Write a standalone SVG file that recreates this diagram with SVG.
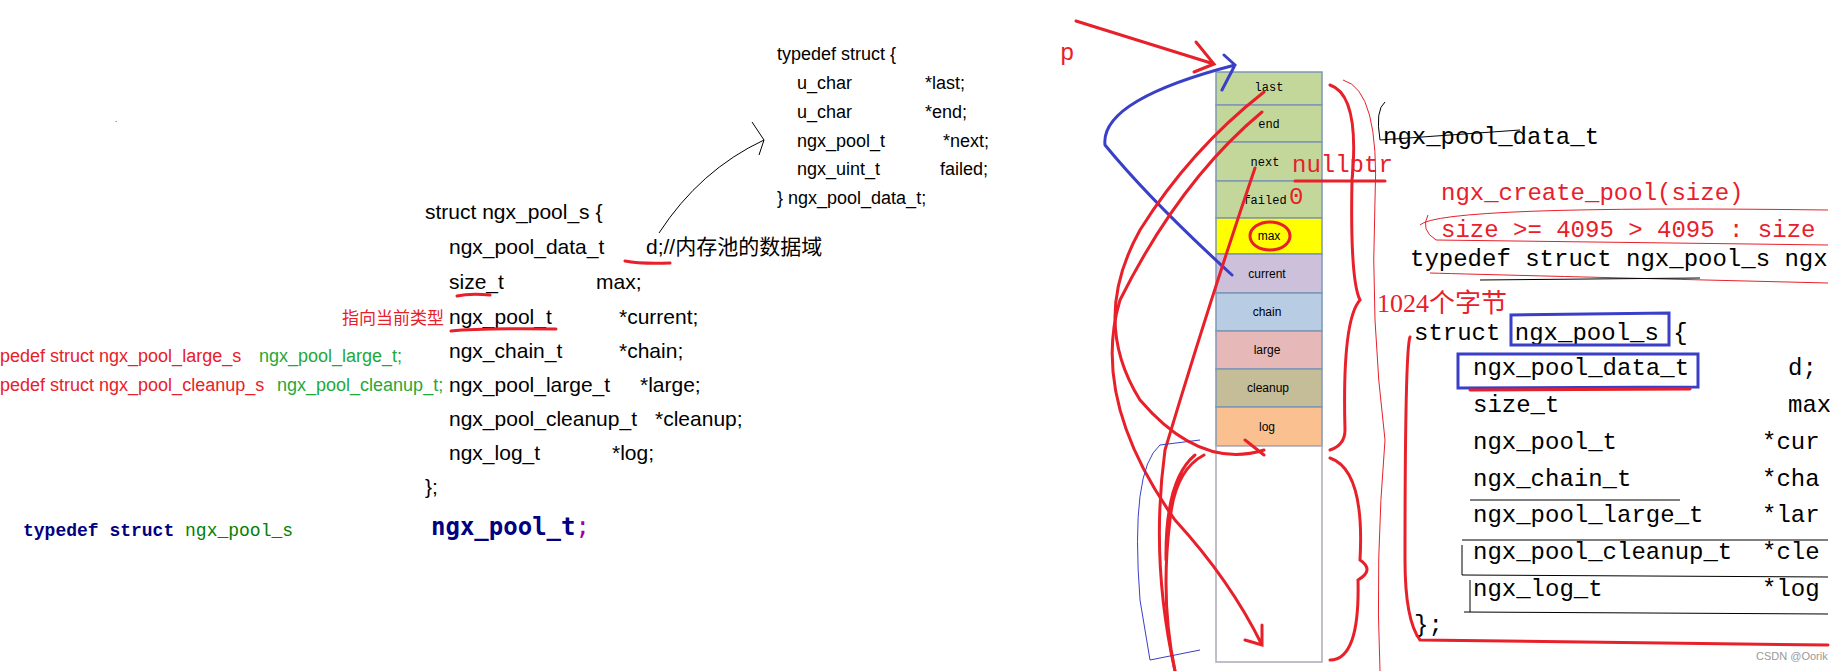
<svg xmlns="http://www.w3.org/2000/svg" width="1830" height="671" viewBox="0 0 1830 671">
<style>
.c{font-family:"Liberation Sans Narrow","Liberation Sans","Noto Sans CJK SC",sans-serif;font-size:21px;fill:#000}
.s{font-size:18px}
.m{font-family:"Liberation Mono","Noto Sans CJK SC",monospace;font-size:24px;fill:#000}
.r{fill:#e8202a}
.g{fill:#1fa83a}
.cell{stroke:#7f97b5;stroke-width:1.5}
.lb{font-family:"Liberation Sans",sans-serif;font-size:12px;text-anchor:middle;fill:#000}
.hr{fill:none;stroke:#e8202a;stroke-width:3;stroke-linecap:round}
.ht{fill:none;stroke:#e8202a;stroke-width:1}
.hb{fill:none;stroke:#3a3fc8;stroke-width:3;stroke-linecap:round}
.hk{fill:none;stroke:#000;stroke-width:1}
</style>
<rect width="1830" height="671" fill="#fff"/>
<g id="data-struct">
<text class="c s" x="777" y="60">typedef struct {</text>
<text class="c s" x="797" y="89">u_char</text><text class="c s" x="925" y="89">*last;</text>
<text class="c s" x="797" y="118">u_char</text><text class="c s" x="925" y="118">*end;</text>
<text class="c s" x="797" y="147">ngx_pool_t</text><text class="c s" x="943" y="147">*next;</text>
<text class="c s" x="797" y="175">ngx_uint_t</text><text class="c s" x="940" y="175">failed;</text>
<text class="c s" x="777" y="204">} ngx_pool_data_t;</text>
</g>
<g id="pool-struct">
<text class="c" x="425" y="219">struct ngx_pool_s {</text>
<text class="c" x="449" y="254">ngx_pool_data_t</text><text class="c" x="646" y="254">d;//内存池的数据域</text>
<text class="c" x="449" y="289">size_t</text><text class="c" x="596" y="289">max;</text>
<text class="c r" x="342" y="324" style="font-size:17px">指向当前类型</text>
<text class="c" x="449" y="324">ngx_pool_t</text><text class="c" x="619" y="324">*current;</text>
<text class="c" x="449" y="358">ngx_chain_t</text><text class="c" x="619" y="358">*chain;</text>
<text class="c" x="449" y="392">ngx_pool_large_t</text><text class="c" x="640" y="392">*large;</text>
<text class="c" x="449" y="426">ngx_pool_cleanup_t</text><text class="c" x="655" y="426">*cleanup;</text>
<text class="c" x="449" y="460">ngx_log_t</text><text class="c" x="612" y="460">*log;</text>
<text class="c" x="425" y="494">};</text>
<text class="c r" x="0" y="362" style="font-size:18px">pedef struct ngx_pool_large_s</text>
<text class="c g" x="259" y="362" style="font-size:18px">ngx_pool_large_t;</text>
<text class="c r" x="0" y="391" style="font-size:18px">pedef struct ngx_pool_cleanup_s</text>
<text class="c g" x="277" y="391" style="font-size:18px">ngx_pool_cleanup_t;</text>
<text x="23" y="536" style="font-family:'Liberation Mono',monospace;font-size:18px;font-weight:bold;fill:#000080">typedef struct <tspan fill="#008000" font-weight="normal">ngx_pool_s</tspan></text>
<text x="431" y="535" style="font-family:'DejaVu Sans Mono',monospace;font-size:24px;font-weight:bold;fill:#000080">ngx_pool_t<tspan fill="#a000a0" font-weight="normal">;</tspan></text>
<text x="115" y="122" style="font-size:8px;font-family:'Liberation Sans'">.</text>
</g>
<g id="memory-column">
<rect class="cell" x="1216" y="72" width="106" height="33" fill="#c4d79b"/>
<rect class="cell" x="1216" y="105" width="106" height="37" fill="#c4d79b"/>
<rect class="cell" x="1216" y="142" width="106" height="39" fill="#c4d79b"/>
<rect class="cell" x="1216" y="181" width="106" height="37" fill="#c4d79b"/>
<rect class="cell" x="1216" y="218" width="106" height="36" fill="#ffff00"/>
<rect class="cell" x="1216" y="254" width="106" height="39" fill="#ccc0da"/>
<rect class="cell" x="1216" y="293" width="106" height="38" fill="#b8cce4"/>
<rect class="cell" x="1216" y="331" width="106" height="38" fill="#e6b9b8"/>
<rect class="cell" x="1216" y="369" width="106" height="38" fill="#c4bd97"/>
<rect class="cell" x="1216" y="407" width="106" height="39" fill="#fac090"/>
<rect x="1216" y="446" width="106" height="216" fill="#fff" stroke="#aab" stroke-width="1.5"/>
<text class="lb" x="1269" y="91" style="font-family:'Liberation Mono'">last</text>
<text class="lb" x="1269" y="128" style="font-family:'Liberation Mono'">end</text>
<text class="lb" x="1265" y="166" style="font-family:'Liberation Mono'">next</text>
<text class="lb" x="1265" y="204" style="font-family:'Liberation Mono'">failed</text>
<text class="lb" x="1269" y="240">max</text>
<text class="lb" x="1267" y="278">current</text>
<text class="lb" x="1267" y="316">chain</text>
<text class="lb" x="1267" y="354">large</text>
<text class="lb" x="1268" y="392">cleanup</text>
<text class="lb" x="1267" y="431">log</text>
</g>
<g id="right-code">
<text class="m r" x="1060" y="60">p</text>
<text class="m" x="1383" y="144">ngx_pool_data_t</text>
<text class="m r" x="1292" y="172">nullptr</text>
<text class="m r" x="1289" y="204">0</text>
<text class="m r" x="1441" y="200">ngx_create_pool(size)</text>
<text class="m r" x="1441" y="237">size &gt;= 4095 &gt; 4095 : size</text>
<text class="m" x="1410" y="266">typedef struct ngx_pool_s ngx</text>
<text x="1377" y="312" style="font-family:'Liberation Serif','Noto Sans CJK SC',serif;font-size:26px;fill:#e8202a">1024个字节</text>
<text class="m" x="1414" y="340">struct ngx_pool_s {</text>
<text class="m" x="1473" y="375">ngx_pool_data_t</text><text class="m" x="1788" y="375">d;</text>
<text class="m" x="1473" y="412">size_t</text><text class="m" x="1788" y="412">max</text>
<text class="m" x="1473" y="449">ngx_pool_t</text><text class="m" x="1762" y="449">*cur</text>
<text class="m" x="1473" y="486">ngx_chain_t</text><text class="m" x="1762" y="486">*cha</text>
<text class="m" x="1473" y="522">ngx_pool_large_t</text><text class="m" x="1762" y="522">*lar</text>
<text class="m" x="1473" y="559">ngx_pool_cleanup_t</text><text class="m" x="1762" y="559">*cle</text>
<text class="m" x="1473" y="596">ngx_log_t</text><text class="m" x="1762" y="596">*log</text>
<text class="m" x="1414" y="632">};</text>
<text x="1756" y="660" style="font-family:'Liberation Sans',sans-serif;font-size:11px;fill:#999">CSDN @Oorik</text>
</g>
<g id="connectors">
<path class="hk" d="M659 233 Q700 170 764 140" stroke-width="2.5"/>
<path class="hk" d="M752 122 L764 140 L759 155" stroke-width="2.5"/>
<path class="hr" d="M625 261 Q640 264 670 263"/><path class="hr" d="M457 296 Q470 293 490 295"/><path class="hr" d="M451 331 Q480 328 556 329"/>
<path class="hr" d="M1076 21 L1214 64 M1196 42 L1214 64 L1194 72"/>
<path class="hb" d="M1232 275 Q1150 200 1105 145 Q1100 100 1235 65 M1222 90 L1235 65 L1224 55"/>
<path class="hr" d="M1262 112 Q1180 180 1120 300 Q1090 400 1175 520 Q1230 580 1262 645 M1245 640 L1262 645 L1262 625"/>
<path class="hr" d="M1264 92 Q1190 150 1140 230 Q1090 320 1140 400 Q1200 470 1264 450 M1245 440 L1264 455"/>
<path class="hr" d="M1255 168 Q1210 300 1165 450 Q1150 560 1175 671"/>
<path class="hr" d="M1204 455 Q1175 470 1170 520 Q1160 600 1175 671 M1195 455 Q1165 480 1166 560"/>
<path class="hr" d="M1330 85 Q1360 95 1352 180 Q1350 280 1360 300 Q1342 320 1345 430 Q1345 445 1330 450"/>
<path class="hr" d="M1330 458 Q1365 470 1360 560 Q1375 570 1358 580 Q1360 660 1330 660"/>
<path class="ht" d="M1343 80 Q1380 90 1375 200 Q1370 320 1385 440 Q1375 560 1380 671"/>
<path class="hr" d="M1270 236 m-20 0 a20 14 0 1 0 40 0 a20 14 0 1 0 -40 0"/>
<path class="hb" d="M1511 315 L1511 345 L1669 345 L1669 313 Z"/>
<path class="hb" d="M1458 354 L1458 388 L1698 387 L1698 354 Z"/>
<path class="hr" d="M1295 181 L1385 181 M1410 337 Q1405 350 1405 560 Q1405 620 1420 640 L1828 645 M1470 390 L1690 389"/>
<path class="ht" d="M1428 215 Q1420 230 1436 240 L1828 245 M1420 225 Q1440 205 1828 210 M1430 273 Q1500 275 1828 283"/>
<path class="hk" d="M1462 540 L1828 540 M1462 575 L1828 577 M1464 612 L1828 614 M1462 545 L1462 575 M1470 580 L1470 612"/>
<path class="hk" d="M1480 280 L1700 278 M1470 500 L1680 500 M1380 140 Q1375 110 1385 102 M1380 140 L1520 130"/>
<path fill="none" stroke="#3a3fc8" stroke-width="1" d="M1200 440 L1160 445 Q1130 470 1140 600 L1150 660 L1200 650"/>
</g>
</svg>
